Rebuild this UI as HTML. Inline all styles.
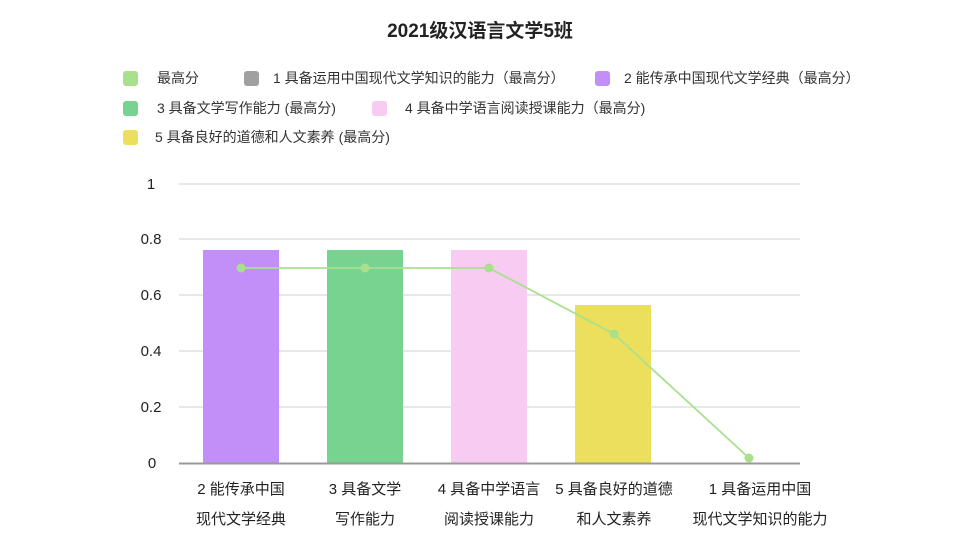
<!DOCTYPE html>
<html><head><meta charset="utf-8"><style>
body{margin:0;background:#fff;}
svg{display:block;font-family:"Liberation Sans","Noto Sans CJK SC",sans-serif;}
</style></head><body>
<svg width="960" height="540" viewBox="0 0 960 540">
<text x="480" y="37" text-anchor="middle" font-size="19" font-weight="bold" fill="#222">2021级汉语言文学5班</text>
<g font-size="14" fill="#333">
<rect x="123" y="71" width="15" height="15" rx="3" fill="#a8e08e"/><text x="157" y="83">最高分</text>
<rect x="244" y="71" width="15" height="15" rx="3" fill="#a0a0a0"/><text x="273" y="83">1 具备运用中国现代文学知识的能力（最高分）</text>
<rect x="595" y="71" width="15" height="15" rx="3" fill="#c18ff7"/><text x="624" y="83">2 能传承中国现代文学经典（最高分）</text>
<rect x="123" y="101" width="15" height="15" rx="3" fill="#76d490"/><text x="157" y="113">3 具备文学写作能力 (最高分)</text>
<rect x="372" y="101" width="15" height="15" rx="3" fill="#f7cbf2"/><text x="405" y="113">4 具备中学语言阅读授课能力（最高分)</text>
<rect x="123" y="130" width="15" height="15" rx="3" fill="#ecdf5c"/><text x="155" y="142">5 具备良好的道德和人文素养 (最高分)</text>
</g>
<g stroke="#e0e0e0" stroke-width="1.5">
<line x1="179" y1="184" x2="800" y2="184"/><line x1="179" y1="239" x2="800" y2="239"/>
<line x1="179" y1="295" x2="800" y2="295"/><line x1="179" y1="351" x2="800" y2="351"/>
<line x1="179" y1="407" x2="800" y2="407"/>
</g>
<g font-size="15" fill="#222" text-anchor="middle">
<text x="151" y="189">1</text><text x="151" y="244">0.8</text><text x="151" y="300">0.6</text>
<text x="151" y="356">0.4</text><text x="151" y="412">0.2</text><text x="152" y="468">0</text>
</g>
<rect x="203" y="250" width="76" height="213" fill="#c18ff7"/>
<rect x="327" y="250" width="76" height="213" fill="#76d490"/>
<rect x="451" y="250" width="76" height="213" fill="#f7cbf2"/>
<rect x="575" y="305" width="76" height="158" fill="#ecdf5c"/>
<line x1="179" y1="463.5" x2="800" y2="463.5" stroke="#999" stroke-width="2"/>
<polyline points="241,268 365,268 489,268 614,334 749,458" fill="none" stroke="#a8e08e" stroke-width="1.8"/>
<g fill="#a8e08e"><circle cx="241" cy="268" r="4.5"/><circle cx="365" cy="268" r="4.5"/><circle cx="489" cy="268" r="4.5"/><circle cx="614" cy="334" r="4.5"/><circle cx="749" cy="458" r="4.5"/></g>
<g font-size="15" fill="#222" text-anchor="middle">
<text x="241" y="494">2 能传承中国</text><text x="241" y="524">现代文学经典</text>
<text x="365" y="494">3 具备文学</text><text x="365" y="524">写作能力</text>
<text x="489" y="494">4 具备中学语言</text><text x="489" y="524">阅读授课能力</text>
<text x="614" y="494">5 具备良好的道德</text><text x="614" y="524">和人文素养</text>
<text x="760" y="494">1 具备运用中国</text><text x="760" y="524">现代文学知识的能力</text>
</g>
</svg>
</body></html>
